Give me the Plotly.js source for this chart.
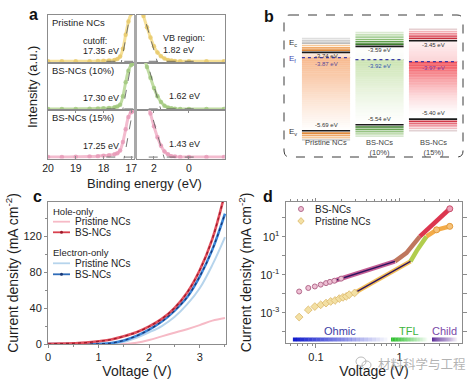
<!DOCTYPE html>
<html>
<head>
<meta charset="utf-8">
<script src="https://cdn.plot.ly/plotly-3.0.1.min.js"></script>
<style>
html,body{margin:0;padding:0;background:#ffffff;overflow:hidden;}
#chart{width:474px;height:382px;}
</style>
</head>
<body>
<div id="chart"></div>
<script>
// ================= DATA =================
// ---- panel a : UPS spectra ----
const aSampleNames = ['Pristine NCs', 'BS-NCs (10%)', 'BS-NCs (15%)'];
const aCutoffValues = [17.35, 17.30, 17.25];
const aVBValues = [1.82, 1.62, 1.43];
const aCutoffEnergy = [20, 19.5, 19, 18.5, 18.2, 18.0, 17.8, 17.6, 17.5, 17.4, 17.3, 17.2, 17.1, 17.0, 16.9];
const aCutoffPristine = [0.03, 0.03, 0.03, 0.03, 0.035, 0.04, 0.045, 0.06, 0.08, 0.13, 0.30, 0.60, 0.88, 1.05, 1.15];
const aCutoffBS10 = [0.03, 0.03, 0.03, 0.035, 0.04, 0.045, 0.05, 0.065, 0.08, 0.12, 0.30, 0.60, 0.85, 0.97, 1.0];
const aCutoffBS15 = [0.03, 0.03, 0.035, 0.04, 0.05, 0.06, 0.07, 0.09, 0.11, 0.17, 0.35, 0.62, 0.88, 0.98, 1.0];
const aVBEnergy = [3.0, 2.8, 2.6, 2.4, 2.2, 2.0, 1.8, 1.6, 1.4, 1.2, 1.0, 0.8, 0.5, 0, -1, -2];
const aVBPristine = [1.45, 1.25, 1.0, 0.76, 0.54, 0.35, 0.22, 0.14, 0.09, 0.06, 0.045, 0.035, 0.03, 0.03, 0.03, 0.03];
const aVBBS10 = [1.6, 1.35, 1.15, 0.93, 0.70, 0.48, 0.30, 0.18, 0.10, 0.06, 0.045, 0.035, 0.03, 0.03, 0.03, 0.03];
const aVBBS15 = [2.0, 1.7, 1.4, 1.2, 0.95, 0.68, 0.45, 0.27, 0.15, 0.09, 0.05, 0.04, 0.03, 0.03, 0.03, 0.03];
const aBaseline = 0.03;
const aLeftTicks = [20, 19, 18, 17];
const aRightTicks = [2, 0];

// ---- panel b : energy levels (eV) ----
const bSampleNames = ['Pristine NCs', 'BS-NCs<br>(10%)', 'BS-NCs<br>(15%)'];
const bEc = [-3.74, -3.59, -3.45];
const bEf = [-3.87, -3.92, -3.97];
const bEv = [-5.69, -5.54, -5.40];

// ---- panel c : J-V of single-carrier devices ----
const cGroupNames = ['Hole-only', 'Electron-only'];
const cSeriesNames = ['Pristine NCs', 'BS-NCs'];
const cVoltage = [0, 0.25, 0.5, 0.75, 1.0, 1.25, 1.5, 1.75, 2.0, 2.25, 2.5, 2.75, 3.0, 3.25, 3.5];
const cHolePristine = [0, 0, 0, 0, 0, 0, 0.1, 1.5, 4.5, 8.5, 12.5, 16.5, 21, 26, 29];
const cHoleBS = [0.2, 0.4, 0.8, 1.5, 3, 5, 8.5, 13, 19.5, 28, 40, 57, 82, 117, 168];
const cElecPristine = [0, 0, 0, 0, 0, 0.3, 2.5, 7, 13, 20, 30, 44, 62, 88, 119];
const cElecBS = [0, 0, 0, 0, 0.2, 1, 4, 9, 16, 25, 37, 52, 75, 105, 145];
const cYTicks = [0, 40, 80, 120];

// ---- panel d : log-log SCLC ----
const dSeriesNames = ['BS-NCs', 'Pristine NCs'];
const dBSVoltage = [0.063, 0.081, 0.097, 0.114, 0.132, 0.147, 0.166, 0.2, 0.3, 0.5, 0.7, 0.88, 1.21, 1.75, 2.77, 3.98];
const dBSCurrent = [0.013, 0.020, 0.024, 0.030, 0.036, 0.042, 0.048, 0.062, 0.11, 0.23, 0.36, 0.5, 1.4, 10.4, 64, 295];
const dPrVoltage = [0.063, 0.081, 0.097, 0.114, 0.132, 0.15, 0.169, 0.19, 0.21, 0.23, 0.25, 0.29, 0.5, 0.8, 1.0, 1.35, 1.6, 2.1, 2.77, 3.98];
const dPrCurrent = [5.9e-4, 1.4e-3, 2.1e-3, 2.6e-3, 3.2e-3, 3.9e-3, 4.4e-3, 5.5e-3, 6.4e-3, 7.2e-3, 8.9e-3, 0.011, 0.044, 0.145, 0.256, 0.5, 1.8, 10.4, 23, 35];
const dRegimeNames = ['Ohmic', 'TFL', 'Child'];
const dRegimeStart = [0.053, 0.79, 2.44];
const dRegimeEnd = [0.71, 2.13, 4.87];
const dXTickVals = [0.1, 1];
const dXTickText = ['0.1', '1'];
const dYTickVals = [1e-3, 1e-1, 10];
const dYTickText = ['10<sup>-3</sup>', '10<sup>-1</sup>', '10<sup>1</sup>'];

// ================= HELPERS / STYLE =================
const W = 474, H = 382;
const px = p => p / W;
const py = p => 1 - p / H;
const FONT = 'Arial, "Liberation Sans", Helvetica, sans-serif';
const TXT = '#1e1e1e';
const AXC = '#8c8c8c';
const traces = [];
const shapes = [];
const ann = [];
function label(text, x, y, size, color, xanchor, extra) {
  ann.push(Object.assign({
    text: text, x: px(x), y: py(y), xref: 'paper', yref: 'paper', showarrow: false,
    font: {family: FONT, size: size, color: color || TXT},
    xanchor: xanchor || 'left', yanchor: 'middle'
  }, extra || {}));
}
const layout = {
  width: W, height: H, margin: {l: 0, r: 0, t: 0, b: 0},
  paper_bgcolor: '#ffffff', plot_bgcolor: 'rgba(0,0,0,0)',
  font: {family: FONT, size: 10, color: TXT}, showlegend: false
};

// ================= PANEL a =================
const aRows = [[15, 62.7], [62.7, 110.3], [110.3, 158.5]];
const aLineCol = ['#f5df96', '#c0dca2', '#f3bccf'];
const aMarkCol = ['#e6c766', '#9dc67a', '#e597b6'];
const aLeftData = [aCutoffPristine, aCutoffBS10, aCutoffBS15];
const aRightData = [aVBPristine, aVBBS10, aVBBS15];
const axBase = {showgrid: false, zeroline: false, showline: true, linecolor: AXC, linewidth: 1, fixedrange: true};
layout.xaxis = Object.assign({}, axBase, {
  domain: [px(48), px(134)], range: [20, 16.9], anchor: 'y3', mirror: 'all',
  tickvals: aLeftTicks, ticks: 'inside', ticklen: 3, tickcolor: AXC,
  tickfont: {size: 10.5, color: TXT}
});
layout.xaxis2 = Object.assign({}, axBase, {
  domain: [px(137), px(225)], range: [2.97, -2.06], anchor: 'y6', mirror: 'all',
  tickvals: aRightTicks, ticks: 'inside', ticklen: 3, tickcolor: AXC,
  tickfont: {size: 10.5, color: TXT}
});
for (let r = 0; r < 3; r++) {
  const yl = {domain: [py(aRows[r][1]), py(aRows[r][0])], range: [0, 1.02], anchor: 'x', mirror: true,
    showticklabels: false, ticks: ''};
  layout['yaxis' + (r === 0 ? '' : r + 1)] = Object.assign({}, axBase, yl);
  layout['yaxis' + (r + 4)] = Object.assign({}, axBase, yl, {anchor: 'x2'});
}
for (let i = 0; i < 3; i++) {
  const yl = i === 0 ? 'y' : 'y' + (i + 1);
  const yr = 'y' + (i + 4);
  traces.push({x: aCutoffEnergy, y: aLeftData[i], xaxis: 'x', yaxis: yl, mode: 'lines+markers', name: aSampleNames[i],
    line: {color: aLineCol[i], width: 3, shape: 'spline'}, marker: {size: 4.5, color: aMarkCol[i], opacity: 0.75}});
  traces.push({x: aVBEnergy, y: aRightData[i], xaxis: 'x2', yaxis: yr, mode: 'lines+markers', name: aSampleNames[i],
    line: {color: aLineCol[i], width: 3, shape: 'spline'}, marker: {size: 4.5, color: aMarkCol[i], opacity: 0.75}});
  // tangent / baseline guides derived from the reported values
  const c = aCutoffValues[i], v = aVBValues[i];
  const sL = (1 - aBaseline) / 0.3, sR = (1 - aBaseline) / 0.75;
  traces.push({x: [c + 0.05, c - 0.3], y: [aBaseline - 0.05 * sL, aBaseline + 0.3 * sL], xaxis: 'x', yaxis: yl, mode: 'lines',
    line: {color: '#555', width: 0.8, dash: 'dash'}, hoverinfo: 'skip'});
  traces.push({x: [17.9, 16.9], y: [aBaseline, aBaseline], xaxis: 'x', yaxis: yl, mode: 'lines',
    line: {color: '#555', width: 0.8, dash: 'dash'}, hoverinfo: 'skip'});
  traces.push({x: [v - 0.1, v + 0.75], y: [aBaseline - 0.1 * sR, aBaseline + 0.75 * sR], xaxis: 'x2', yaxis: yr, mode: 'lines',
    line: {color: '#555', width: 0.8, dash: 'dash'}, hoverinfo: 'skip'});
  traces.push({x: [2.3, -0.45], y: [aBaseline, aBaseline], xaxis: 'x2', yaxis: yr, mode: 'lines',
    line: {color: '#555', width: 0.8, dash: 'dash'}, hoverinfo: 'skip'});
}
shapes.push({type: 'rect', xref: 'paper', yref: 'paper', x0: px(134), x1: px(137), y0: py(158.5), y1: py(15),
  fillcolor: '#a9a9a9', line: {width: 0}, layer: 'above'});
const aRowLabelY = [22, 70, 118];
const aCutY = [51.5, 98, 146];
const aVBY = [50, 96.5, 143.5];
for (let i = 0; i < 3; i++) {
  label(aSampleNames[i], 50, aRowLabelY[i], 9.5);
  label(aCutoffValues[i].toFixed(2) + ' eV', 80.5, aCutY[i], 9);
  label(aVBValues[i].toFixed(2) + ' eV', i === 0 ? 160.5 : 166.5, aVBY[i], 9);
}
label('cutoff:', 81, 40.5, 9);
label('VB region:', 160.5, 38.5, 9);
label('Binding energy (eV)', 144, 183, 13, TXT, 'center');
label('Intensity (a.u.)', 33, 87, 13, TXT, 'center', {textangle: -90});

// ================= PANEL b =================
layout.xaxis3 = {domain: [px(284), px(463)], range: [-0.785, 2.56], visible: false, anchor: 'y7', fixedrange: true};
layout.yaxis7 = {domain: [py(157), py(15)], range: [-6.343, -2.81], visible: false, anchor: 'x3', fixedrange: true};
const bHalf = 0.45;
const bStep = 0.057;
const bFill = ['242,140,70', '150,200,100', '240,55,65'];
const bAboveA = [0.32, 0.04, 0.22];
const bBelowA = [0.62, 0.5, 0.9];
const bPow = [1.1, 1.3, 1.7];
const bTopStack = [
  ['#e08a3a', '#f0aa6a', '#f6c898', '#bcbcbc', '#cfcfcf', '#dedede'],
  ['#3e7e2e', '#5f9e4c', '#88ba72', '#a9d09a', '#c6e0b8', '#dbead2'],
  ['#c8303f', '#e0606e', '#ee909a', '#f3b2b8', '#e6cfd1']
];
const bBotStack = [
  ['#e08a3a', '#f0aa6a', '#f6c898', '#d2d2d2'],
  ['#3e7e2e', '#6aa656', '#98c484', '#c0dcb0', '#d8e8d0'],
  ['#d03848', '#e66c7a', '#f09aa4', '#f3bcc2', '#e2d2d4']
];
const bEfCol = ['#5a4a98', '#3454b0', '#7a38a4'];
for (let i = 0; i < 3; i++) {
  const x0 = i - bHalf, x1 = i + bHalf;
  const n1 = 10;
  for (let k = 0; k < n1; k++) {
    const ya = bEc[i] - (bEc[i] - bEf[i]) * k / n1;
    const yb = bEc[i] - (bEc[i] - bEf[i]) * (k + 1) / n1;
    const a = bAboveA[i] * (0.3 + 0.7 * (k + 0.5) / n1);
    shapes.push({type: 'rect', xref: 'x3', yref: 'y7', x0: x0, x1: x1, y0: yb, y1: ya,
      fillcolor: 'rgba(' + bFill[i] + ',' + a.toFixed(3) + ')', line: {width: 0}, layer: 'below'});
  }
  const n2 = 36;
  for (let k = 0; k < n2; k++) {
    const ya = bEf[i] - (bEf[i] - bEv[i]) * k / n2;
    const yb = bEf[i] - (bEf[i] - bEv[i]) * (k + 1) / n2;
    const t = (k + 0.5) / n2;
    const a = bBelowA[i] * Math.pow(1 - t, bPow[i]);
    shapes.push({type: 'rect', xref: 'x3', yref: 'y7', x0: x0, x1: x1, y0: yb, y1: ya,
      fillcolor: 'rgba(' + bFill[i] + ',' + a.toFixed(3) + ')', line: {width: 0}, layer: 'below'});
  }
  bTopStack[i].forEach((col, k) => {
    const y = bEc[i] + (k + 1) * bStep;
    shapes.push({type: 'line', xref: 'x3', yref: 'y7', x0: x0, x1: x1, y0: y, y1: y, line: {color: col, width: 1.7}, layer: 'below'});
  });
  bBotStack[i].forEach((col, k) => {
    const y = bEv[i] - (k + 1) * bStep;
    shapes.push({type: 'line', xref: 'x3', yref: 'y7', x0: x0, x1: x1, y0: y, y1: y, line: {color: col, width: 1.7}, layer: 'below'});
  });
  traces.push({x: [x0, x1], y: [bEc[i], bEc[i]], xaxis: 'x3', yaxis: 'y7', mode: 'lines', line: {color: '#1a1a1a', width: 1.6}, hoverinfo: 'skip'});
  traces.push({x: [x0, x1], y: [bEv[i], bEv[i]], xaxis: 'x3', yaxis: 'y7', mode: 'lines', line: {color: '#1a1a1a', width: 1.6}, hoverinfo: 'skip'});
  traces.push({x: [x0, x1], y: [bEf[i], bEf[i]], xaxis: 'x3', yaxis: 'y7', mode: 'lines', line: {color: '#3a3aa8', width: 1.3, dash: 'dot'}, hoverinfo: 'skip'});
  const bl = (text, y, ys, col) => ann.push({text: text, x: i, y: y, xref: 'x3', yref: 'y7', showarrow: false, yshift: ys,
    font: {family: FONT, size: 6, color: col}, xanchor: 'center', yanchor: 'middle'});
  bl(bEc[i].toFixed(2) + ' eV', bEc[i], -4, '#333');
  bl(bEf[i].toFixed(2) + ' eV', bEf[i], -6, bEfCol[i]);
  bl(bEv[i].toFixed(2) + ' eV', bEv[i], 6, '#333');
  ann.push({text: bSampleNames[i], x: i, y: py(136), xref: 'x3', yref: 'paper', showarrow: false,
    font: {family: FONT, size: 7.5, color: '#444'}, xanchor: 'center', yanchor: 'top'});
}
label('E<sub>c</sub>', 287, 43, 8, '#333');
label('E<sub>f</sub>', 287, 59, 8, '#4048b0');
label('E<sub>v</sub>', 287, 132, 8, '#333');
(function () {
  const x0 = px(284), x1 = px(463), yt = py(15), yb = py(157), rx = 6 / W, ry = 6 / H;
  const path = 'M' + (x0 + rx) + ',' + yt + ' L' + (x1 - rx) + ',' + yt + ' Q' + x1 + ',' + yt + ' ' + x1 + ',' + (yt - ry) +
    ' L' + x1 + ',' + (yb + ry) + ' Q' + x1 + ',' + yb + ' ' + (x1 - rx) + ',' + yb +
    ' L' + (x0 + rx) + ',' + yb + ' Q' + x0 + ',' + yb + ' ' + x0 + ',' + (yb + ry) +
    ' L' + x0 + ',' + (yt - ry) + ' Q' + x0 + ',' + yt + ' ' + (x0 + rx) + ',' + yt + ' Z';
  shapes.push({type: 'path', xref: 'paper', yref: 'paper', path: path, line: {color: '#3a3a3a', width: 1, dash: 'dash'}});
})();

// ================= PANEL c =================
layout.xaxis4 = Object.assign({}, axBase, {
  domain: [px(48), px(226)], range: [0, 3.52], anchor: 'y8', mirror: true,
  tick0: 0, dtick: 1, ticks: 'outside', ticklen: 3, tickcolor: AXC,
  minor: {dtick: 0.5, ticks: 'outside', ticklen: 2, tickcolor: AXC},
  tickfont: {size: 11, color: TXT},
  title: {text: 'Voltage (V)', font: {size: 14, color: TXT}, standoff: 2}
});
layout.yaxis8 = Object.assign({}, axBase, {
  domain: [py(344), py(202)], range: [0, 158], anchor: 'x4', mirror: true,
  tickvals: cYTicks, ticks: 'outside', ticklen: 3, tickcolor: AXC,
  minor: {dtick: 20, ticks: 'outside', ticklen: 2, tickcolor: AXC},
  tickfont: {size: 11, color: TXT},
  title: {text: 'Current density (mA cm<sup>-2</sup>)', font: {size: 14, color: TXT}, standoff: 1}
});
const cStyles = [
  {data: cHolePristine, col: '#f6bac6', w: 2, name: cGroupNames[0] + ' ' + cSeriesNames[0]},
  {data: cElecPristine, col: '#b6d4ec', w: 2, name: cGroupNames[1] + ' ' + cSeriesNames[0]},
  {data: cElecBS, col: '#3a84d6', w: 2.6, dot: '#1a3774', name: cGroupNames[1] + ' ' + cSeriesNames[1]},
  {data: cHoleBS, col: '#e2505e', w: 2.6, dot: '#9c1a2a', name: cGroupNames[0] + ' ' + cSeriesNames[1]}
];
cStyles.forEach(s => {
  traces.push({x: cVoltage, y: s.data, xaxis: 'x4', yaxis: 'y8', mode: 'lines', name: s.name,
    line: {color: s.col, width: s.w, shape: 'spline'}});
  if (s.dot) traces.push({x: cVoltage, y: s.data, xaxis: 'x4', yaxis: 'y8', mode: 'lines', name: s.name,
    line: {color: s.dot, width: 1.3, dash: 'dot', shape: 'spline'}, hoverinfo: 'skip'});
});
const cLeg = [
  {head: cGroupNames[0], y: 211},
  {text: cSeriesNames[0], y: 221.7, col: '#f6bac6'},
  {text: cSeriesNames[1], y: 232.3, col: '#d8404e', mk: '#9c1a2a'},
  {head: cGroupNames[1], y: 252.3},
  {text: cSeriesNames[0], y: 263.3, col: '#b6d4ec'},
  {text: cSeriesNames[1], y: 274.3, col: '#2f6cb8', mk: '#1a3774'}
];
cLeg.forEach(e => {
  if (e.head) { label(e.head, 51, e.y, 9.5); return; }
  shapes.push({type: 'line', xref: 'paper', yref: 'paper', x0: px(53), x1: px(70), y0: py(e.y), y1: py(e.y), line: {color: e.col, width: 1.8}});
  if (e.mk) shapes.push({type: 'circle', xref: 'paper', yref: 'paper', x0: px(60), x1: px(63), y0: py(e.y + 1.5), y1: py(e.y - 1.5),
    fillcolor: e.mk, line: {width: 0}});
  label(e.text, 72.5, e.y, 10);
});

// ================= PANEL d =================
const dXR = [-1.358, 0.746], dYR = [-4.595, 2.826];
layout.xaxis5 = Object.assign({}, axBase, {
  type: 'log', domain: [px(286), px(462)], range: dXR, anchor: 'y9', mirror: 'ticks',
  tickvals: dXTickVals, ticktext: dXTickText, ticks: 'outside', ticklen: 3.5, tickcolor: AXC,
  minor: {dtick: 'D1', ticks: 'outside', ticklen: 2, tickcolor: AXC},
  tickfont: {size: 11, color: TXT},
  title: {text: 'Voltage (V)', font: {size: 14, color: TXT}, standoff: 2}
});
layout.yaxis9 = Object.assign({}, axBase, {
  type: 'log', domain: [py(343), py(202)], range: dYR, anchor: 'x5', mirror: 'ticks',
  tickvals: dYTickVals, ticktext: dYTickText, ticks: 'outside', ticklen: 3.5, tickcolor: AXC,
  minor: {dtick: 1, ticks: 'outside', ticklen: 3.5, tickcolor: AXC},
  tickfont: {size: 11, color: TXT},
  title: {text: 'Current density (mA cm<sup>-2</sup>)', font: {size: 14, color: TXT}, standoff: 5}
});
const dSeg = (vx, vy, a, b) => ({x: vx.slice(a, b + 1), y: vy.slice(a, b + 1)});
[[6, 11, '#be4c88'], [11, 13, '#b8684c'], [13, 15, '#d8203c']].forEach(s => {
  const d = dSeg(dBSVoltage, dBSCurrent, s[0], s[1]);
  traces.push({x: d.x, y: d.y, xaxis: 'x5', yaxis: 'y9', mode: 'lines', name: dSeriesNames[0],
    line: {color: s[2], width: 4.5}, opacity: 0.9});
});
[[11, 15, '#f2b846'], [15, 17, '#a8c83a'], [17, 19, '#f2a234']].forEach(s => {
  const d = dSeg(dPrVoltage, dPrCurrent, s[0], s[1]);
  traces.push({x: d.x, y: d.y, xaxis: 'x5', yaxis: 'y9', mode: 'lines', name: dSeriesNames[1],
    line: {color: s[2], width: 4.5}, opacity: 0.9});
});
[[dBSVoltage, dBSCurrent, 6, 11], [dPrVoltage, dPrCurrent, 11, 15]].forEach(s => {
  const d = dSeg(s[0], s[1], s[2], s[3]);
  traces.push({x: d.x, y: d.y, xaxis: 'x5', yaxis: 'y9', mode: 'lines', line: {color: '#2e1460', width: 1.4}, hoverinfo: 'skip'});
});
traces.push({x: dBSVoltage.slice(0, 8), y: dBSCurrent.slice(0, 8), xaxis: 'x5', yaxis: 'y9', mode: 'markers', name: dSeriesNames[0],
  marker: {symbol: 'circle', size: 5, color: '#eec0d4', line: {color: '#b36a8c', width: 1}}});
traces.push({x: dPrVoltage.slice(0, 12), y: dPrCurrent.slice(0, 12), xaxis: 'x5', yaxis: 'y9', mode: 'markers', name: dSeriesNames[1],
  marker: {symbol: 'diamond', size: 6, color: '#f3e0a4', line: {color: '#dcb86a', width: 0.8}}});
traces.push({x: dBSVoltage.slice(-1), y: dBSCurrent.slice(-1), xaxis: 'x5', yaxis: 'y9', mode: 'markers',
  marker: {symbol: 'circle', size: 6, color: '#eea0b8', line: {color: '#c8506c', width: 1}}});
traces.push({x: dPrVoltage.slice(-2), y: dPrCurrent.slice(-2), xaxis: 'x5', yaxis: 'y9', mode: 'markers',
  marker: {symbol: 'circle', size: 6, color: '#f6c27a', line: {color: '#e29a3a', width: 1}}});
const fx = v => (Math.log10(v) - dXR[0]) / (dXR[1] - dXR[0]);
const dRegCol = ['20,30,205', '40,190,40', '92,44,152'];
const dRegText = ['#3c3ca4', '#3cb43c', '#7a4aa8'];
for (let r = 0; r < 3; r++) {
  const n = 24;
  const a0 = Math.log10(dRegimeStart[r]), a1 = Math.log10(dRegimeEnd[r]);
  for (let k = 0; k < n; k++) {
    const v0 = Math.pow(10, a0 + (a1 - a0) * k / n), v1 = Math.pow(10, a0 + (a1 - a0) * (k + 1) / n);
    const al = 1 - 0.95 * (k / (n - 1));
    shapes.push({type: 'rect', xref: 'x5 domain', yref: 'paper', x0: fx(v0), x1: fx(v1) + 0.001, y0: py(341.5), y1: py(337.5),
      fillcolor: 'rgba(' + dRegCol[r] + ',' + al.toFixed(3) + ')', line: {width: 0}});
  }
  const mid = Math.pow(10, (a0 + a1) / 2);
  ann.push({text: dRegimeNames[r], x: fx(mid), y: py(331), xref: 'x5 domain', yref: 'paper', showarrow: false,
    font: {family: FONT, size: 11, color: dRegText[r]}, xanchor: 'center', yanchor: 'middle'});
}
shapes.push({type: 'circle', xref: 'paper', yref: 'paper', x0: px(298.5), x1: px(303.5), y0: py(211.5), y1: py(206.5),
  fillcolor: '#eec0d4', line: {color: '#b36a8c', width: 1}});
(function () {
  const cx = px(301), cy = py(221), dx = 3.2 / W, dy = 3.4 / H;
  shapes.push({type: 'path', xref: 'paper', yref: 'paper',
    path: 'M' + cx + ',' + (cy + dy) + ' L' + (cx + dx) + ',' + cy + ' L' + cx + ',' + (cy - dy) + ' L' + (cx - dx) + ',' + cy + ' Z',
    fillcolor: '#f3e0a4', line: {color: '#dcb86a', width: 0.8}});
})();
label(dSeriesNames[0], 312.5, 209, 10);
label(dSeriesNames[1], 312.5, 221, 10);

// watermark
shapes.push({type: 'circle', xref: 'paper', yref: 'paper', x0: px(356), x1: px(366), y0: py(366), y1: py(357),
  line: {color: 'rgba(170,170,170,0.8)', width: 1}});
shapes.push({type: 'circle', xref: 'paper', yref: 'paper', x0: px(362), x1: px(371), y0: py(369), y1: py(361),
  line: {color: 'rgba(170,170,170,0.8)', width: 1}});
label('材料科学与工程', 376, 363, 12.5, 'rgba(165,165,165,0.85)', 'left',
  {font: {family: '"Noto Sans CJK SC", sans-serif', size: 12.5, color: 'rgba(165,165,165,0.85)'}});

// panel letters
['a', 'b', 'c', 'd'].forEach((t, k) => {
  const pos = [[33, 15], [269, 16], [37, 197], [268, 196]][k];
  label(t, pos[0], pos[1], 16, '#111', 'center', {font: {family: FONT, size: 16, color: '#111', weight: 'bold'}});
});

layout.shapes = shapes;
layout.annotations = ann;
traces.forEach(t => { if (t.showlegend === undefined) t.showlegend = false; });
Plotly.newPlot('chart', traces, layout, {staticPlot: true, displayModeBar: false});
</script>
</body>
</html>
